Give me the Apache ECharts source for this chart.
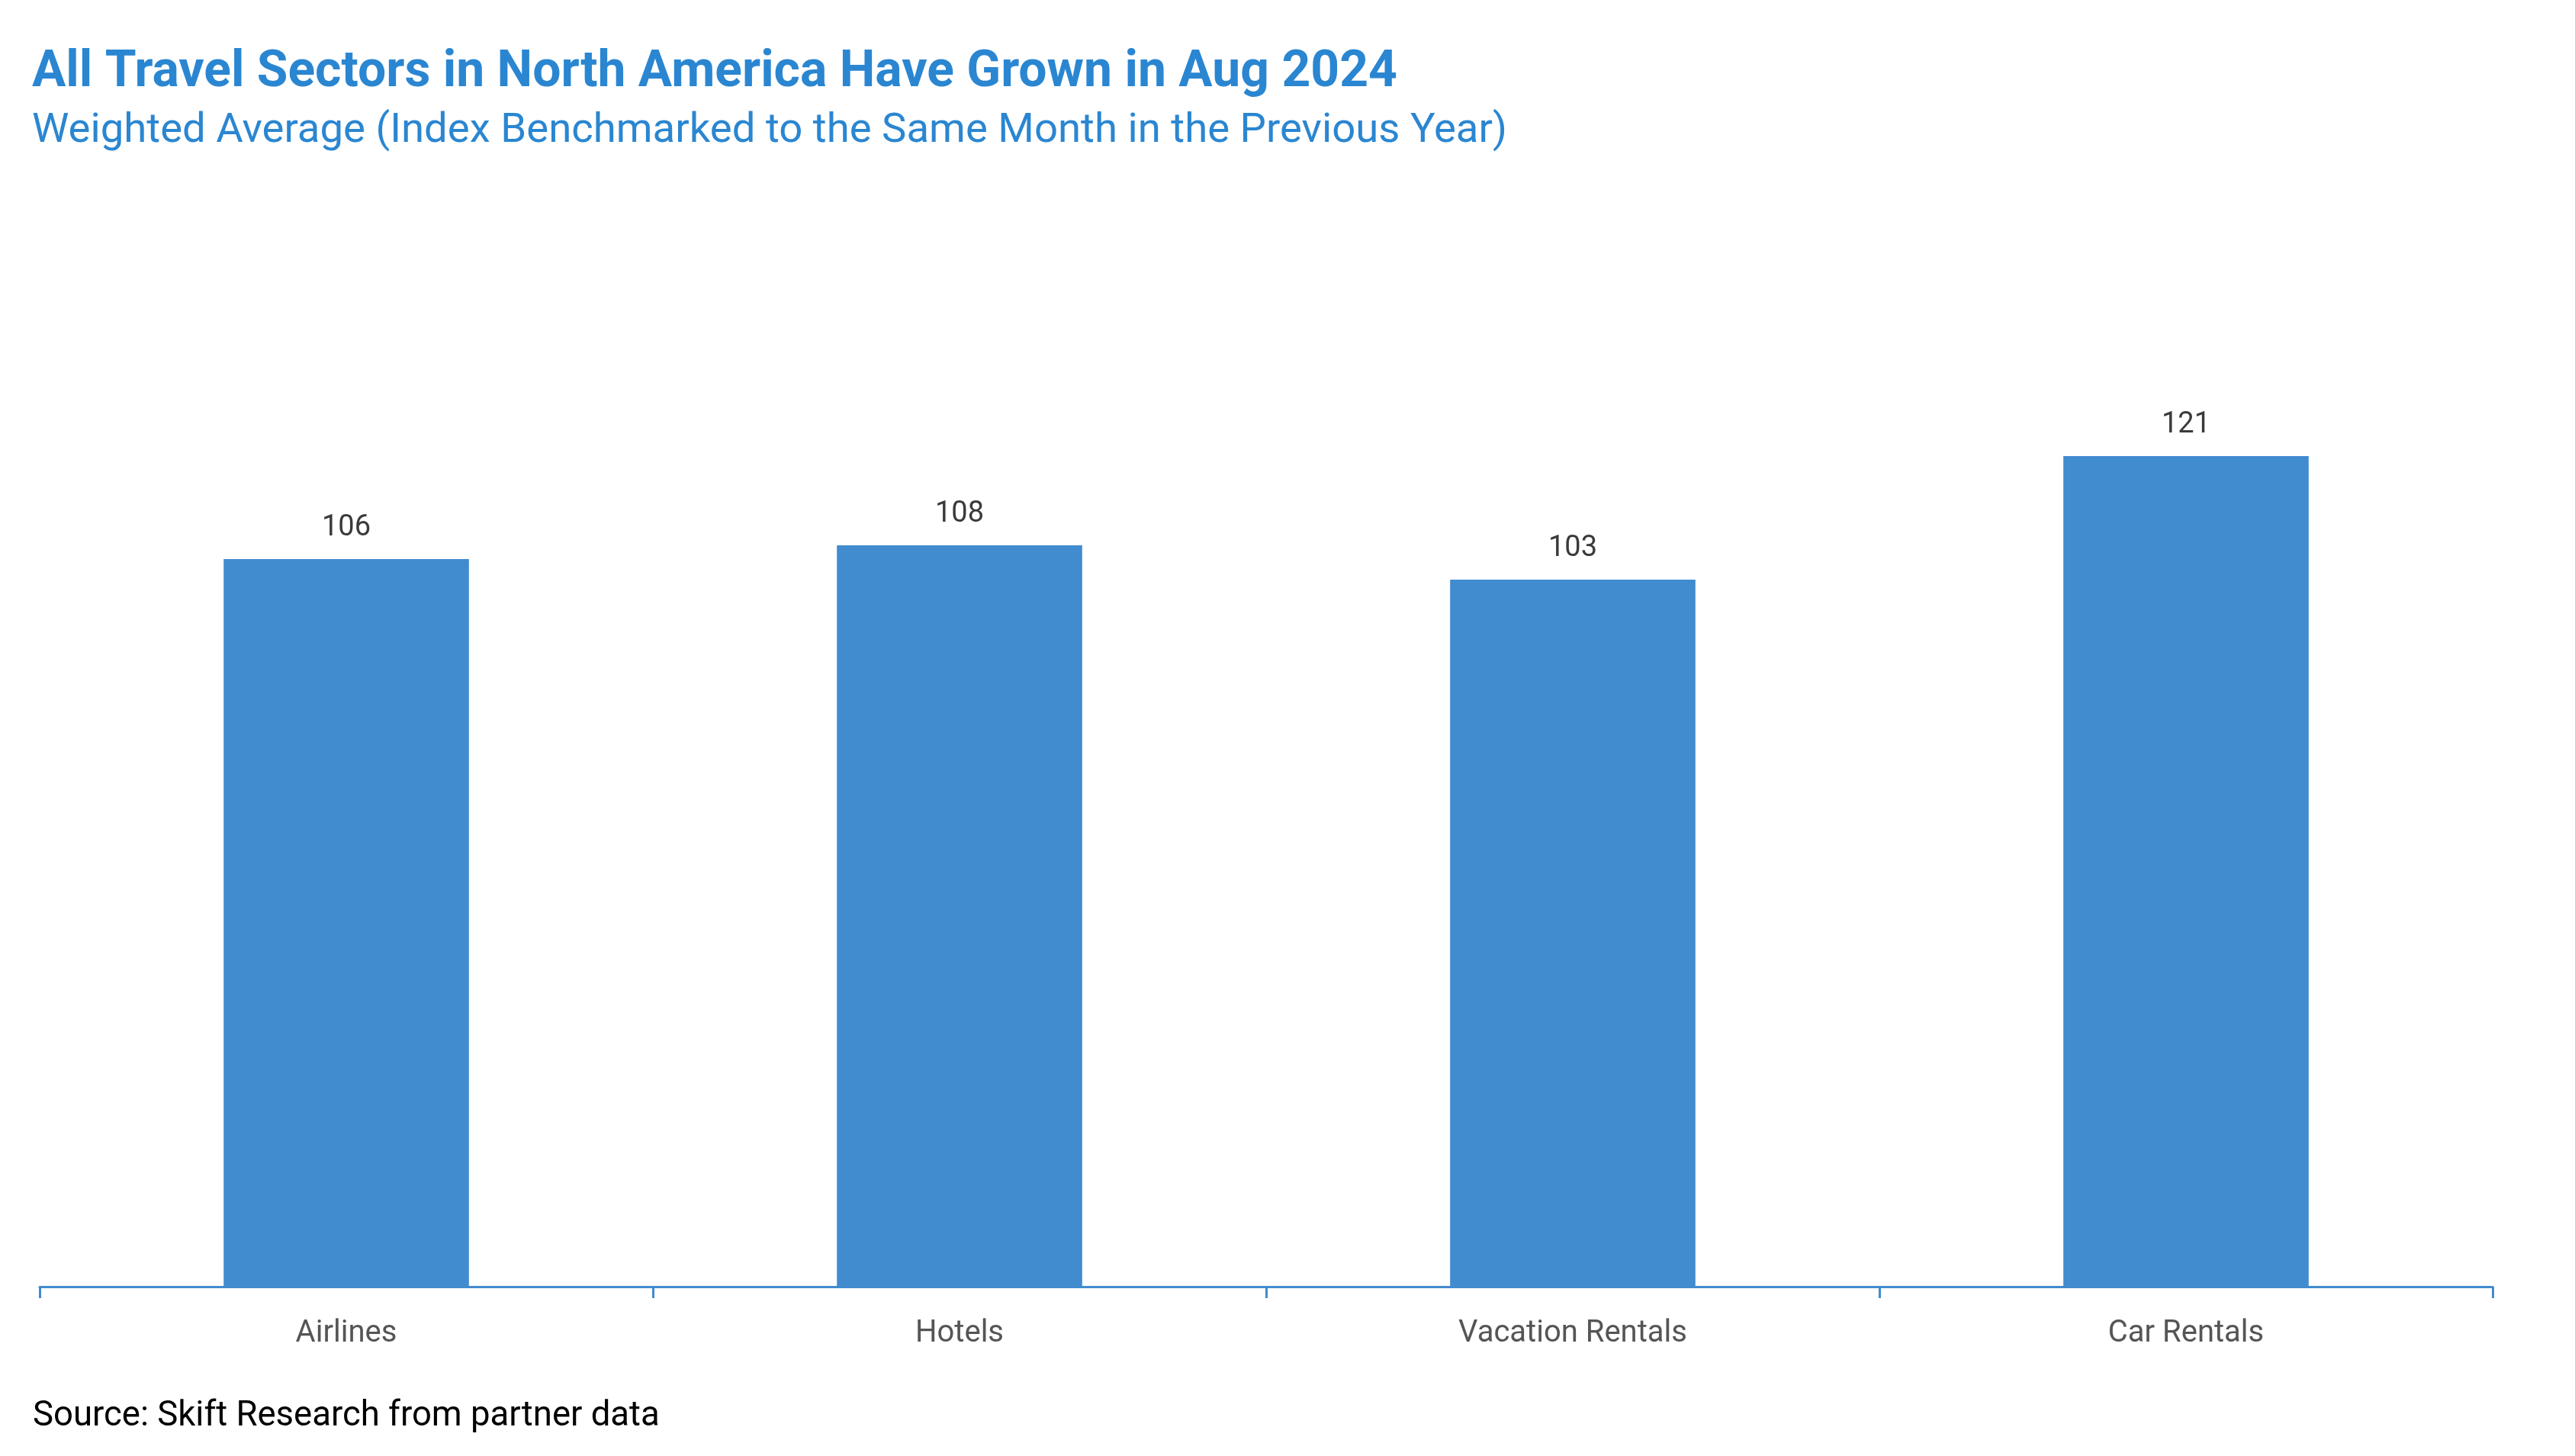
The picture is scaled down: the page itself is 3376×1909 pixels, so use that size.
<!DOCTYPE html>
<html>
<head>
<meta charset="utf-8">
<title>Travel Sectors</title>
<script src="https://cdn.jsdelivr.net/npm/echarts@6/dist/echarts.min.js"></script>
<style>
  html, body { margin: 0; padding: 0; background: #fff; }
  #chart { width: 3376px; height: 1909px; }
</style>
</head>
<body>
<div id="chart"></div>
<script>
// data
const sectors = ['Airlines', 'Hotels', 'Vacation Rentals', 'Car Rentals'];
const indexValues = [106, 108, 103, 121];

const blue = '#418bcf';
const font = 'Roboto';

const chart = echarts.init(document.getElementById('chart'));

const option = {
  backgroundColor: '#fff',
  animation: false,
  textStyle: { fontFamily: font },
  title: [
    {
      text: 'All Travel Sectors in North America Have Grown in Aug 2024',
      subtext: 'Weighted Average (Index Benchmarked to the Same Month in the Previous Year)',
      left: 37,
      top: 58,
      itemGap: 16,
      textStyle: { fontSize: 66, fontWeight: 'bold', color: '#2a86d1', fontFamily: font },
      subtextStyle: { fontSize: 54.5, color: '#2a86d1', fontFamily: font }
    },
    {
      text: 'Source: Skift Research from partner data',
      left: 38,
      top: 1830,
      textStyle: { fontSize: 45.5, fontWeight: 'normal', color: '#000', fontFamily: font }
    }
  ],
  grid: {
    left: 52,
    right: 108,
    top: 427,
    bottom: 222,
    containLabel: false
  },
  xAxis: {
    type: 'category',
    data: sectors,
    axisLine: { lineStyle: { color: blue, width: 3 } },
    axisTick: { show: true, length: 15, lineStyle: { color: blue, width: 3 } },
    axisLabel: { fontSize: 40, color: '#555', margin: 42 }
  },
  yAxis: {
    type: 'value',
    min: 0,
    max: 140,
    show: false,
    splitLine: { show: false }
  },
  series: [
    {
      type: 'bar',
      data: indexValues,
      barCategoryGap: '60%',
      itemStyle: { color: blue },
      label: {
        show: true,
        position: 'top',
        distance: 22,
        fontSize: 38,
        color: '#3a3a3a'
      }
    }
  ]
};

chart.setOption(option);
</script>
</body>
</html>
